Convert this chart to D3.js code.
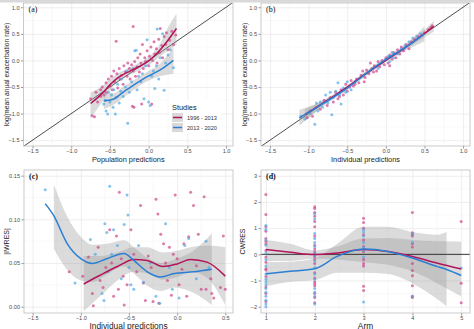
<!DOCTYPE html>
<html>
<head>
<meta charset="utf-8">
<script src="https://cdn.jsdelivr.net/npm/d3@7"></script>
<style>
  body { margin: 0; background: #fff; }
  svg { display: block; font-family: "Liberation Sans", Arial, sans-serif; }
</style>
</head>
<body>
<div class="svg-container"></div>
<script>
// ---- data: panel (a) observed vs population predictions
const aPink = [[-0.75,-0.72],[-0.73,-1.04],[-0.70,-1.06],[-0.68,-0.60],[-0.66,-0.78],[-0.62,-0.55],[-0.60,-0.50],[-0.58,-0.65],[-0.55,-0.42],[-0.55,-0.60],[-0.52,-0.35],[-0.50,-0.48],[-0.48,-0.30],[-0.47,-0.55],[-0.45,-0.20],[-0.44,-0.40],[-0.42,0.36],[-0.41,-0.25],[-0.40,-0.52],[-0.38,-0.15],[-0.37,-0.35],[-0.35,-0.28],[-0.33,-0.45],[-0.32,-0.10],[-0.30,-0.22],[-0.28,-0.30],[-0.27,-0.05],[-0.25,-0.15],[-0.24,-0.35],[-0.22,-0.08],[-0.21,-0.86],[-0.20,-0.20],[-0.20,0.64],[-0.18,-0.02],[-0.17,-0.30],[-0.15,-0.12],[-0.14,0.05],[-0.12,-0.22],[-0.11,0.12],[-0.10,-0.05],[-0.08,0.30],[-0.07,-0.15],[-0.05,0.05],[-0.04,-0.02],[-0.02,0.18],[0.00,-0.10],[0.01,0.08],[0.03,0.25],[0.04,-0.82],[0.05,0.00],[0.07,0.35],[0.08,0.12],[0.10,0.22],[0.11,-0.05],[0.13,0.40],[0.14,0.15],[0.15,0.60],[0.17,0.28],[0.18,0.05],[0.20,0.45],[0.22,0.30],[0.23,0.52],[0.25,0.20],[0.27,0.38],[0.30,0.55],[0.32,0.30],[0.35,0.48],[-0.19,-0.88],[-0.62,-0.68],[-0.09,-0.82]];
const aBlue = [[-0.58,-0.82],[-0.56,-0.75],[-0.55,-0.95],[-0.53,-1.01],[-0.52,-0.60],[-0.50,-0.78],[-0.48,-0.65],[-0.46,-0.88],[-0.45,-0.55],[-0.43,-1.01],[-0.42,-0.70],[-0.40,-0.45],[-0.38,-0.80],[-0.36,-0.58],[-0.35,-0.35],[-0.33,-0.68],[-0.30,-0.50],[-0.28,-0.20],[-0.27,-1.18],[-0.25,-0.60],[-0.22,-0.40],[-0.20,-0.15],[-0.18,0.18],[-0.16,0.19],[-0.15,-0.55],[-0.13,-0.30],[-0.10,-0.40],[-0.08,-0.25],[-0.06,-0.72],[-0.04,-0.10],[-0.02,0.39],[0.00,-0.78],[0.02,-0.85],[0.04,-0.30],[0.06,-0.20],[0.08,-0.53],[0.10,-0.10],[0.11,0.59],[0.13,-0.35],[0.15,0.05],[0.18,0.50],[0.20,-0.56],[0.22,-0.05],[0.25,0.10],[0.28,0.20],[0.32,-0.14]];
// smooth fits: [x, fit, lower, upper]
const aPinkFit = [[-0.75,-0.81,-1.08,-0.60],[-0.6,-0.62,-0.78,-0.48],[-0.5,-0.46,-0.56,-0.36],[-0.4,-0.33,-0.41,-0.25],[-0.24,-0.2,-0.27,-0.13],[-0.1,-0.1,-0.17,-0.03],[0,-0.01,-0.09,0.07],[0.15,0.2,0.08,0.32],[0.25,0.38,0.18,0.62],[0.36,0.6,0.3,0.88]];
const aBlueFit = [[-0.58,-0.76,-0.92,-0.6],[-0.46,-0.73,-0.84,-0.62],[-0.33,-0.6,-0.7,-0.5],[-0.2,-0.47,-0.56,-0.38],[0,-0.29,-0.38,-0.2],[0.15,-0.18,-0.3,-0.06],[0.32,0.0,-0.25,0.25]];

// ---- panel (b) observed vs individual predictions
const bPink = [[-1.02,-1.08],[-0.98,-0.95],[-0.95,-1.05],[-0.90,-0.88],[-0.85,-0.92],[-0.80,-0.75],[-0.76,-0.85],[-0.72,-0.70],[-0.68,-0.78],[-0.65,-0.60],[-0.62,-0.72],[-0.58,-0.55],[-0.55,-0.65],[-0.52,-0.45],[-0.50,-0.58],[-0.47,-0.50],[-0.45,-0.38],[-0.42,-0.48],[-0.38,-0.35],[-0.35,-0.42],[-0.32,-0.28],[-0.30,-0.20],[-0.27,-0.32],[-0.25,-0.18],[-0.22,-0.25],[-0.20,-0.05],[-0.18,-0.15],[-0.15,-0.10],[-0.12,-0.20],[-0.10,-0.02],[-0.08,-0.12],[-0.05,0.00],[-0.02,-0.08],[0.00,0.05],[0.03,-0.05],[0.05,0.10],[0.08,0.02],[0.10,0.15],[0.13,0.05],[0.15,0.20],[0.18,0.12],[0.20,0.25],[0.23,0.18],[0.26,0.30],[0.30,0.22],[0.33,0.35],[0.37,0.40],[0.42,0.45],[0.46,0.48],[0.50,0.52],[0.55,0.58],[0.58,0.62],[0.60,0.65],[-0.60,-0.68],[-0.40,-0.45],[-0.28,-0.40],[-0.16,-0.22],[0.05,-0.10]];
const bBlue = [[-1.10,-1.05],[-1.05,-1.10],[-0.98,-1.00],[-0.92,-1.20],[-0.90,-0.80],[-0.88,-0.95],[-0.85,-0.78],[-0.82,-0.88],[-0.78,-0.65],[-0.75,-0.80],[-0.72,-0.60],[-0.70,-1.02],[-0.68,-0.70],[-0.65,-0.58],[-0.62,-0.42],[-0.60,-0.65],[-0.58,-0.82],[-0.55,-0.52],[-0.52,-0.60],[-0.50,-0.40],[-0.45,-0.55],[-0.40,-0.40],[-0.10,-0.15],[-0.05,-0.05],[0.00,0.02],[0.03,0.08],[0.05,-0.02],[0.08,0.15],[0.10,0.05],[0.15,0.12],[0.20,0.22],[0.25,0.28],[0.30,0.35],[0.35,0.42],[0.40,0.45],[0.45,0.50]];
const bPinkFit = [[-1.05,-1.02,-1.14,-0.92],[-0.8,-0.79,-0.84,-0.74],[-0.5,-0.5,-0.53,-0.47],[-0.25,-0.24,-0.27,-0.21],[0,0,-0.03,0.03],[0.25,0.24,0.2,0.28],[0.45,0.45,0.39,0.51],[0.62,0.64,0.54,0.74]];
const bBlueFit = [[-1.12,-1.08,-1.23,-0.93],[-0.8,-0.8,-0.85,-0.75],[-0.5,-0.52,-0.56,-0.48],[-0.25,-0.24,-0.29,-0.19],[0,0.02,-0.02,0.06],[0.25,0.24,0.18,0.3],[0.5,0.5,0.36,0.64]];

// ---- panel (c) |IWRES| vs individual predictions
const cPink = [[-1.12,0.04],[-0.98,0.035],[-0.92,0.057],[-0.88,0.015],[-0.87,0.001],[-0.82,0.068],[-0.80,0.03],[-0.77,0.022],[-0.74,0.045],[-0.70,0.088],[-0.68,0.05],[-0.66,0.012],[-0.63,0.081],[-0.61,0.02],[-0.60,0.131],[-0.58,0.055],[-0.56,0.035],[-0.55,0.002],[-0.52,0.025],[-0.48,0.088],[-0.45,0.06],[-0.42,0.04],[-0.38,0.116],[-0.35,0.027],[-0.33,0.007],[-0.30,0.058],[-0.27,0.045],[-0.25,0.006],[-0.22,0.123],[-0.20,0.106],[-0.19,0.004],[-0.17,0.083],[-0.14,0.072],[-0.12,0.05],[-0.10,0.03],[-0.08,0.068],[-0.06,0.013],[-0.04,0.06],[-0.02,0.128],[0.0,0.055],[0.02,0.025],[0.05,0.043],[0.07,0.072],[0.10,0.012],[0.12,0.08],[0.14,0.131],[0.17,0.116],[0.20,0.047],[0.22,0.083],[0.25,0.02],[0.28,0.126],[0.30,0.02],[0.35,0.032],[0.36,0.015],[0.38,0.01],[0.48,0.081],[0.50,0.02],[0.45,0.022]];
const cBlue = [[-1.37,0.134],[-1.06,0.027],[-0.90,0.077],[-0.85,0.06],[-0.78,0.015],[-0.76,0.007],[-0.75,0.095],[-0.73,0.085],[-0.72,0.04],[-0.70,0.138],[-0.68,0.06],[-0.66,0.088],[-0.62,0.07],[-0.58,0.032],[-0.55,0.094],[-0.52,0.128],[-0.51,0.105],[-0.50,0.045],[-0.48,0.025],[-0.45,0.02],[-0.40,0.07],[-0.35,0.028],[-0.28,0.05],[-0.22,0.012],[-0.18,0.004],[-0.12,0.095],[-0.08,0.045],[-0.05,0.02],[0.02,0.01],[0.08,0.07],[0.12,0.078],[0.20,0.032],[0.30,0.075],[0.33,0.045]];
const cPinkFit = [[-0.97,0.026,-0.005,0.058],[-0.8,0.036,0.012,0.058],[-0.62,0.046,0.03,0.062],[-0.45,0.054,0.04,0.068],[-0.31,0.053,0.038,0.068],[-0.15,0.046,0.031,0.062],[0,0.049,0.034,0.064],[0.14,0.054,0.04,0.068],[0.31,0.051,0.033,0.07],[0.5,0.035,0.002,0.068]];
const cBlueFit = [[-1.37,0.118,null,null],[-1.28,0.104,0.066,0.14],[-1.14,0.072,0.042,0.103],[-1.0,0.055,0.03,0.08],[-0.88,0.0495,0.028,0.071],[-0.73,0.055,0.037,0.072],[-0.55,0.061,0.046,0.076],[-0.45,0.053,0.038,0.068],[-0.31,0.04,0.024,0.056],[-0.17,0.034,0.018,0.05],[-0.03,0.038,0.022,0.054],[0.17,0.04,0.016,0.064],[0.36,0.043,0.002,0.084]];

// ---- panel (d) CWRES vs arm
const arms = [1, 2, 3, 4, 5];
const dPink = [[2.28,1.52,1.05,0.88,0.6,0.5,0.4,0.15,-0.1,-0.3,-0.55,-0.6,-0.85,-1.25,-1.5,-1.8],[1.82,1.75,1.6,1.45,1.25,1.05,0.7,0.35,0.2,0.1,0.0,-0.1,-0.2,-0.35,-0.7,-0.9,-1.05,-1.12,-1.2,-1.5,-1.65,-1.85],[1.38,1.22,1.0,0.75,0.55,0.3,0.1,-0.2,-0.35,-0.45,-1.22,-1.38],[1.6,0.82,0.75,0.7,0.4,0.28,-0.35,-0.62,-0.82,-1.2,-1.6,-1.65],[1.25,-1.1,-1.85]];
const dBlue = [[1.1,0.95,0.55,0.35,0.05,-0.2,-0.45,-0.75,-0.95,-1.05,-1.15,-1.3,-1.45,-1.6,-1.75,-1.9,-2.0],[1.55,1.35,0.8,0.6,0.45,0.3,0.05,-0.05,-0.25,-0.5,-0.75,-0.95,-1.3,-1.45,-1.6,-1.9],[0.95,0.85,0.7,0.45,0.28,0.15,-0.1,-1.82],[0.78,0.45,-1.6],[-0.52]];
const dPinkFit = [[1,0.18,-0.25,0.55],[1.5,0.08,-0.25,0.4],[2,-0.01,-0.17,0.15],[2.46,0.05,-0.2,0.3],[3,0.18,-0.3,0.6],[3.5,0.11,-0.4,0.62],[4,-0.08,-0.65,0.55],[4.5,-0.33,-1.1,0.5],[5,-0.56,-1.6,0.48]];
const dBlueFit = [[1,-0.74,-1.22,-0.3],[1.5,-0.65,-1.05,-0.28],[2,-0.55,-0.98,-0.15],[2.46,-0.08,-0.7,0.4],[3,0.2,-0.7,1.05],[3.5,0.11,-0.75,1.05],[4,-0.14,-1.1,0.85],[4.5,-0.46,-1.7,0.75],[4.7,-0.58,-1.98,0.85],[5,-0.81,null,null]];

const seriesNames = ["1996 - 2013", "2013 - 2020"];
const lineColors = ["#b3145b", "#2a7fd4"];
const pointColors = ["#cf4589", "#52a8e2"];

const width = 474;
const height = 329;

const svg = d3
  .select(".svg-container")
  .append("svg")
  .attr("width", width)
  .attr("height", height);

// light strip at the very top (cropped facet strip)
svg.append("rect").attr("x", 0).attr("y", 0).attr("width", width).attr("height", 2.5).attr("fill", "#d9d9d9");

function drawPanel(cfg) {
  const { left, right, top, bottom, xDomain, yDomain, xTicks, yTicks, xMinor, yMinor } = cfg;
  const x = d3.scaleLinear().domain(xDomain).range([left, right]);
  const y = d3.scaleLinear().domain(yDomain).range([bottom, top]);
  const g = svg.append("g");

  g.append("rect")
    .attr("x", left).attr("y", top)
    .attr("width", right - left).attr("height", bottom - top)
    .attr("fill", "#fff");

  // minor grid
  g.selectAll(".vminor").data(xMinor).enter().append("line")
    .attr("x1", (d) => x(d)).attr("x2", (d) => x(d))
    .attr("y1", top).attr("y2", bottom)
    .attr("stroke", "#f2f2f2").attr("stroke-width", 0.5);
  g.selectAll(".hminor").data(yMinor).enter().append("line")
    .attr("y1", (d) => y(d)).attr("y2", (d) => y(d))
    .attr("x1", left).attr("x2", right)
    .attr("stroke", "#f2f2f2").attr("stroke-width", 0.5);

  // major grid
  g.append("g")
    .attr("transform", `translate(0,${bottom})`)
    .call(d3.axisBottom(x).tickValues(xTicks).tickSize(-(bottom - top)).tickFormat(""))
    .call((s) => s.select(".domain").remove())
    .call((s) => s.selectAll("line").attr("stroke", "#e6e6e6").attr("stroke-width", 0.7));
  g.append("g")
    .attr("transform", `translate(${left},0)`)
    .call(d3.axisLeft(y).tickValues(yTicks).tickSize(-(right - left)).tickFormat(""))
    .call((s) => s.select(".domain").remove())
    .call((s) => s.selectAll("line").attr("stroke", "#e6e6e6").attr("stroke-width", 0.7));

  // axes with labels
  const xa = g.append("g")
    .attr("transform", `translate(0,${bottom})`)
    .call(d3.axisBottom(x).tickValues(xTicks).tickSize(2.5).tickPadding(1).tickFormat(cfg.xFormat));
  const ya = g.append("g")
    .attr("transform", `translate(${left},0)`)
    .call(d3.axisLeft(y).tickValues(yTicks).tickSize(2.5).tickPadding(1.5).tickFormat(cfg.yFormat));
  [xa, ya].forEach((a) => {
    a.select(".domain").remove();
    a.selectAll("line").attr("stroke", "#555").attr("stroke-width", 0.6);
    a.selectAll("text").attr("fill", "#4d4d4d").attr("font-size", 5.6).attr("font-family", "Liberation Sans, Arial, sans-serif");
  });

  const clip = "clip" + cfg.name;
  svg.append("clipPath").attr("id", clip)
    .append("rect").attr("x", left).attr("y", top).attr("width", right - left).attr("height", bottom - top);
  const plot = g.append("g").attr("clip-path", `url(#${clip})`);

  return { x, y, g, plot };
}

function drawFits(p, fits) {
  const area = d3.area()
    .x((d) => p.x(d[0])).y0((d) => p.y(d[2])).y1((d) => p.y(d[3]))
    .curve(d3.curveMonotoneX);
  fits.forEach((f) => {
    p.plot.append("path")
      .datum(f.filter((d) => d[2] !== null))
      .attr("fill", "#999")
      .attr("fill-opacity", 0.35)
      .attr("d", area);
  });
}

function drawLines(p, fits) {
  const line = d3.line().x((d) => p.x(d[0])).y((d) => p.y(d[1])).curve(d3.curveMonotoneX);
  fits.forEach((f, i) => {
    p.plot.append("path")
      .datum(f)
      .attr("fill", "none")
      .attr("stroke", lineColors[i])
      .attr("stroke-width", 1.5)
      .attr("d", line);
  });
}

function drawPoints(p, sets) {
  sets.forEach((pts, i) => {
    p.plot.selectAll(null)
      .data(pts)
      .enter()
      .append("circle")
      .attr("cx", (d) => p.x(d[0]))
      .attr("cy", (d) => p.y(d[1]))
      .attr("r", 1.5)
      .attr("fill", pointColors[i])
      .attr("fill-opacity", 0.7);
  });
}

function finishPanel(p, cfg) {
  const { left, right, top, bottom } = cfg;
  p.g.append("rect")
    .attr("x", left).attr("y", top)
    .attr("width", right - left).attr("height", bottom - top)
    .attr("fill", "none").attr("stroke", "#bdbdbd").attr("stroke-width", 0.8);
  p.g.append("text")
    .attr("x", left + 5).attr("y", top + 8.5)
    .attr("font-family", "Liberation Serif, serif")
    .attr("font-weight", cfg.boldLabel ? "bold" : "normal")
    .attr("font-size", 8)
    .attr("fill", "#111")
    .text(cfg.label);
  p.g.append("text")
    .attr("x", (left + right) / 2).attr("y", cfg.xTitleY)
    .attr("text-anchor", "middle")
    .attr("font-size", cfg.xTitleSize)
    .attr("fill", "#1a1a1a")
    .text(cfg.xTitle);
  p.g.append("text")
    .attr("transform", `translate(${cfg.yTitleX},${(top + bottom) / 2}) rotate(-90)`)
    .attr("text-anchor", "middle")
    .attr("font-size", cfg.yTitleSize)
    .attr("fill", "#1a1a1a")
    .text(cfg.yTitle);
}

const fmt1 = d3.format(".1f");
const fmt2 = d3.format(".2f");
const diagTicks = [-1.5, -1.0, -0.5, 0.0, 0.5, 1.0];
const diagMinor = [-1.25, -0.75, -0.25, 0.25, 0.75];

// ---- (a)
const cfgA = {
  name: "a", label: "(a)", left: 23.5, right: 233, top: 3, bottom: 146,
  xDomain: [-1.617, 1.09], yDomain: [-1.61, 1.08],
  xTicks: diagTicks, yTicks: diagTicks, xMinor: diagMinor, yMinor: diagMinor,
  xFormat: fmt1, yFormat: fmt1,
  xTitle: "Population predictions", xTitleY: 161.5, xTitleSize: 7.4,
  yTitle: "log(mean anual exacerbation rate)", yTitleX: 9, yTitleSize: 6.8,
};
const pA = drawPanel(cfgA);
pA.plot.append("line")
  .attr("x1", pA.x(-2)).attr("y1", pA.y(-2)).attr("x2", pA.x(2)).attr("y2", pA.y(2))
  .attr("stroke", "#222").attr("stroke-width", 0.8);
drawFits(pA, [aPinkFit, aBlueFit]);
drawPoints(pA, [aPink, aBlue]);
drawLines(pA, [aPinkFit, aBlueFit]);
finishPanel(pA, cfgA);

// legend
const legend = svg.append("g").attr("transform", "translate(169,100)");
legend.append("rect").attr("width", 52).attr("height", 34).attr("fill", "#fff");
legend.append("text").attr("x", 3).attr("y", 9.5).attr("font-size", 7.4).attr("fill", "#1a1a1a").text("Studies");
seriesNames.forEach((name, i) => {
  const ly = 13 + i * 10;
  legend.append("rect").attr("x", 3).attr("y", ly).attr("width", 11).attr("height", 9).attr("fill", "#d9d9d9");
  legend.append("line").attr("x1", 4).attr("x2", 13).attr("y1", ly + 4.5).attr("y2", ly + 4.5)
    .attr("stroke", lineColors[i]).attr("stroke-width", 1.5);
  legend.append("text").attr("x", 18).attr("y", ly + 6.5).attr("font-size", 5.6).attr("fill", "#333").text(name);
});

// ---- (b)
const cfgB = Object.assign({}, cfgA, {
  name: "b", label: "(b)", left: 261, right: 470,
  xTitle: "Individual predictions", yTitleX: 246.5,
});
const pB = drawPanel(cfgB);
pB.plot.append("line")
  .attr("x1", pB.x(-2)).attr("y1", pB.y(-2)).attr("x2", pB.x(2)).attr("y2", pB.y(2))
  .attr("stroke", "#222").attr("stroke-width", 0.8);
drawFits(pB, [bPinkFit, bBlueFit]);
drawPoints(pB, [bPink, bBlue]);
drawLines(pB, [bPinkFit, bBlueFit]);
finishPanel(pB, cfgB);

// ---- (c)
const cfgC = {
  name: "c", label: "(c)", boldLabel: true, left: 24, right: 233, top: 170, bottom: 313,
  xDomain: [-1.59, 0.58], yDomain: [-0.0072, 0.1565],
  xTicks: [-1.5, -1.0, -0.5, 0.0, 0.5], yTicks: [0, 0.05, 0.1, 0.15],
  xMinor: [-1.25, -0.75, -0.25, 0.25], yMinor: [0.025, 0.075, 0.125],
  xFormat: fmt1, yFormat: fmt2,
  xTitle: "Individual predictions", xTitleY: 328.5, xTitleSize: 8.4,
  yTitle: "|IWRES|", yTitleX: 9, yTitleSize: 7,
};
const pC = drawPanel(cfgC);
drawFits(pC, [cPinkFit, cBlueFit]);
drawPoints(pC, [cPink, cBlue]);
drawLines(pC, [cPinkFit, cBlueFit]);
finishPanel(pC, cfgC);

// ---- (d)
const dPinkPts = dPink.flatMap((vals, i) => vals.map((v) => [arms[i], v]));
const dBluePts = dBlue.flatMap((vals, i) => vals.map((v) => [arms[i], v]));
const cfgD = {
  name: "d", label: "(d)", boldLabel: true, left: 261, right: 470, top: 170, bottom: 313,
  xDomain: [0.9, 5.18], yDomain: [-2.24, 3.22],
  xTicks: arms, yTicks: [-2, -1, 0, 1, 2, 3],
  xMinor: [1.5, 2.5, 3.5, 4.5], yMinor: [-1.5, -0.5, 0.5, 1.5, 2.5],
  xFormat: d3.format("d"), yFormat: d3.format("d"),
  xTitle: "Arm", xTitleY: 328.5, xTitleSize: 8.4,
  yTitle: "CWRES", yTitleX: 245, yTitleSize: 7,
};
const pD = drawPanel(cfgD);
drawFits(pD, [dPinkFit, dBlueFit]);
pD.plot.append("line")
  .attr("x1", cfgD.left).attr("x2", cfgD.right).attr("y1", pD.y(0)).attr("y2", pD.y(0))
  .attr("stroke", "#222").attr("stroke-width", 0.9);
drawPoints(pD, [dPinkPts, dBluePts]);
drawLines(pD, [dPinkFit, dBlueFit]);
finishPanel(pD, cfgD);
</script>
</body>
</html>
